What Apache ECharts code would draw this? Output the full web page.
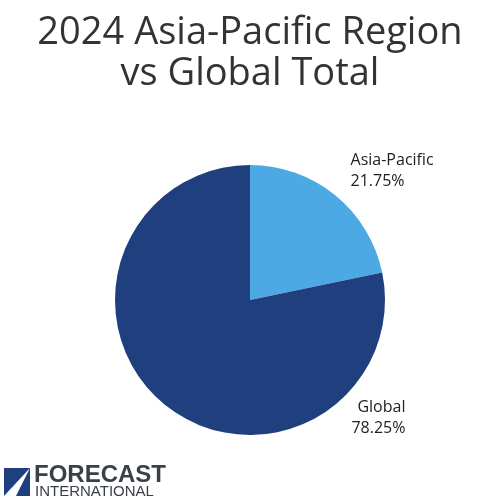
<!DOCTYPE html>
<html>
<head>
<meta charset="utf-8">
<script src="https://cdn.jsdelivr.net/npm/echarts@6/dist/echarts.min.js"></script>
<style>html,body{margin:0;padding:0;background:#fff}#chart{width:500px;height:500px}</style>
</head>
<body>
<div id="chart"></div>
<script>
var regions = ['Asia-Pacific', 'Global'];
var shares = [21.75, 78.25];
var colors = ['#4da9e3', '#203f7f'];
var labelOffsets = [[4, -17], [252, 5]];

var chart = echarts.init(document.getElementById('chart'));
var data = regions.map(function (r, i) {
    return { name: r, value: shares[i], itemStyle: { color: colors[i] }, label: { offset: labelOffsets[i] } };
});
chart.setOption({
    title: {
        text: '2024 Asia-Pacific Region\nvs Global Total',
        left: 'center',
        top: 8,
        textStyle: { fontFamily: 'Open Sans', fontWeight: 'normal', fontSize: 38, color: '#333', lineHeight: 41 }
    },
    graphic: [
        { type: 'rect', shape: { x: 4, y: 468, width: 26, height: 28 }, style: { fill: '#203f7f' } },
        { type: 'polygon', shape: { points: [[4, 496], [30, 468], [16, 496]] }, style: { fill: '#fff' } },
        { type: 'text', left: 34, top: 463, style: { text: 'FORECAST', font: 'bold 24px "Liberation Sans"', fill: '#3a3f48' } },
        { type: 'text', left: 35, top: 484, style: { text: 'INTERNATIONAL', font: '15px "Liberation Sans"', fill: '#3a3f48' } }
    ],
    series: [{
        type: 'pie',
        center: [250, 300],
        radius: 135,
        startAngle: 90,
        clockwise: true,
        silent: true,
        data: data,
        label: {
            position: 'outside',
            formatter: function (p) { return p.name + '\n' + p.value.toFixed(2) + '%'; },
            fontFamily: 'Open Sans',
            fontSize: 16,
            lineHeight: 21,
            color: '#222',
            align: 'center'
        },
        labelLine: { show: false, length: 10, length2: 0 }
    }]
});
</script>
</body>
</html>
